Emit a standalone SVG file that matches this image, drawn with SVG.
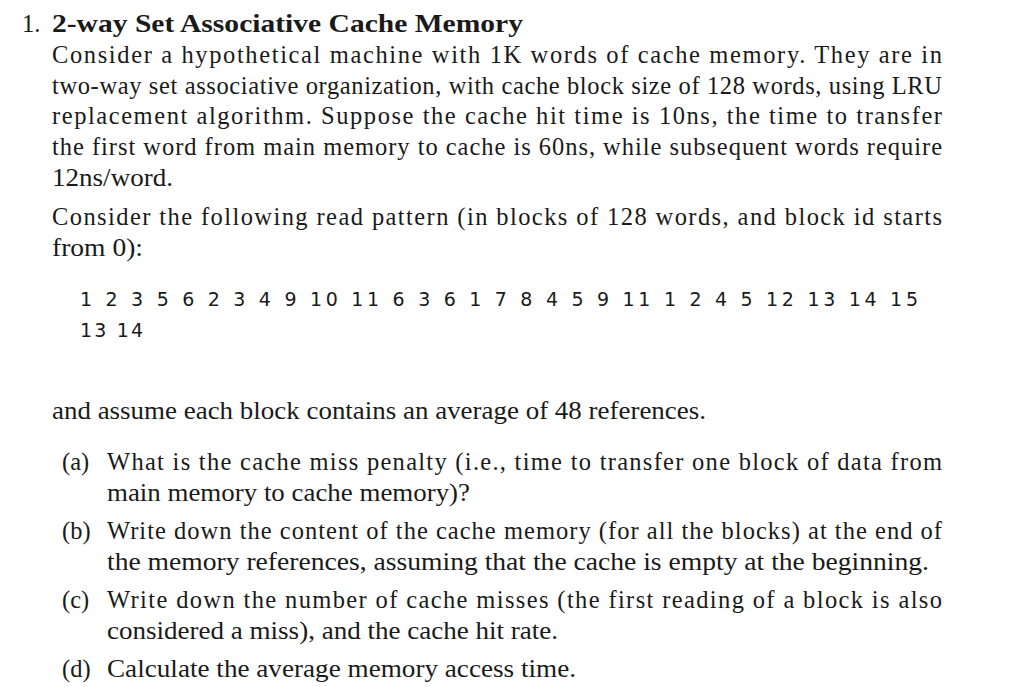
<svg xmlns="http://www.w3.org/2000/svg" width="1024" height="687" viewBox="0 0 1024 687">
<style>
text{font-family:"Liberation Serif","DejaVu Serif",serif;font-size:24.5px;fill:#1a1a1a}
.b{font-weight:bold}
.m{font-family:"DejaVu Sans","Liberation Sans",sans-serif;font-size:19px}
</style>
<rect width="1024" height="687" fill="#fff"/>
<text x="22" y="32">1.</text>
<text x="52" y="32" class="b" textLength="471" lengthAdjust="spacingAndGlyphs">2-way Set Associative Cache Memory</text>
<text x="52" y="63" textLength="890" lengthAdjust="spacing">Consider a hypothetical machine with 1K words of cache memory. They are in</text>
<text x="52" y="94" textLength="890" lengthAdjust="spacing">two-way set associative organization, with cache block size of 128 words, using LRU</text>
<text x="52" y="124" textLength="890" lengthAdjust="spacing">replacement algorithm. Suppose the cache hit time is 10ns, the time to transfer</text>
<text x="52" y="155" textLength="890" lengthAdjust="spacing">the first word from main memory to cache is 60ns, while subsequent words require</text>
<text x="52" y="186" textLength="121" lengthAdjust="spacingAndGlyphs">12ns/word.</text>
<text x="52" y="225" textLength="890" lengthAdjust="spacing">Consider the following read pattern (in blocks of 128 words, and block id starts</text>
<text x="52" y="256" textLength="91" lengthAdjust="spacingAndGlyphs">from 0):</text>
<text x="80" y="306" class="m" textLength="838" lengthAdjust="spacing">1 2 3 5 6 2 3 4 9 10 11 6 3 6 1 7 8 4 5 9 11 1 2 4 5 12 13 14 15</text>
<text x="80" y="337" class="m" textLength="63" lengthAdjust="spacing">13 14</text>
<text x="52" y="419" textLength="654" lengthAdjust="spacingAndGlyphs">and assume each block contains an average of 48 references.</text>
<text x="62" y="470">(a)</text>
<text x="107" y="470" textLength="835" lengthAdjust="spacing">What is the cache miss penalty (i.e., time to transfer one block of data from</text>
<text x="107" y="501" textLength="363" lengthAdjust="spacingAndGlyphs">main memory to cache memory)?</text>
<text x="62" y="539">(b)</text>
<text x="107" y="539" textLength="835" lengthAdjust="spacing">Write down the content of the cache memory (for all the blocks) at the end of</text>
<text x="107" y="570" textLength="822" lengthAdjust="spacingAndGlyphs">the memory references, assuming that the cache is empty at the beginning.</text>
<text x="62" y="608">(c)</text>
<text x="107" y="608" textLength="835" lengthAdjust="spacing">Write down the number of cache misses (the first reading of a block is also</text>
<text x="107" y="639" textLength="451" lengthAdjust="spacingAndGlyphs">considered a miss), and the cache hit rate.</text>
<text x="62" y="677">(d)</text>
<text x="107" y="677" textLength="469" lengthAdjust="spacingAndGlyphs">Calculate the average memory access time.</text>
</svg>
